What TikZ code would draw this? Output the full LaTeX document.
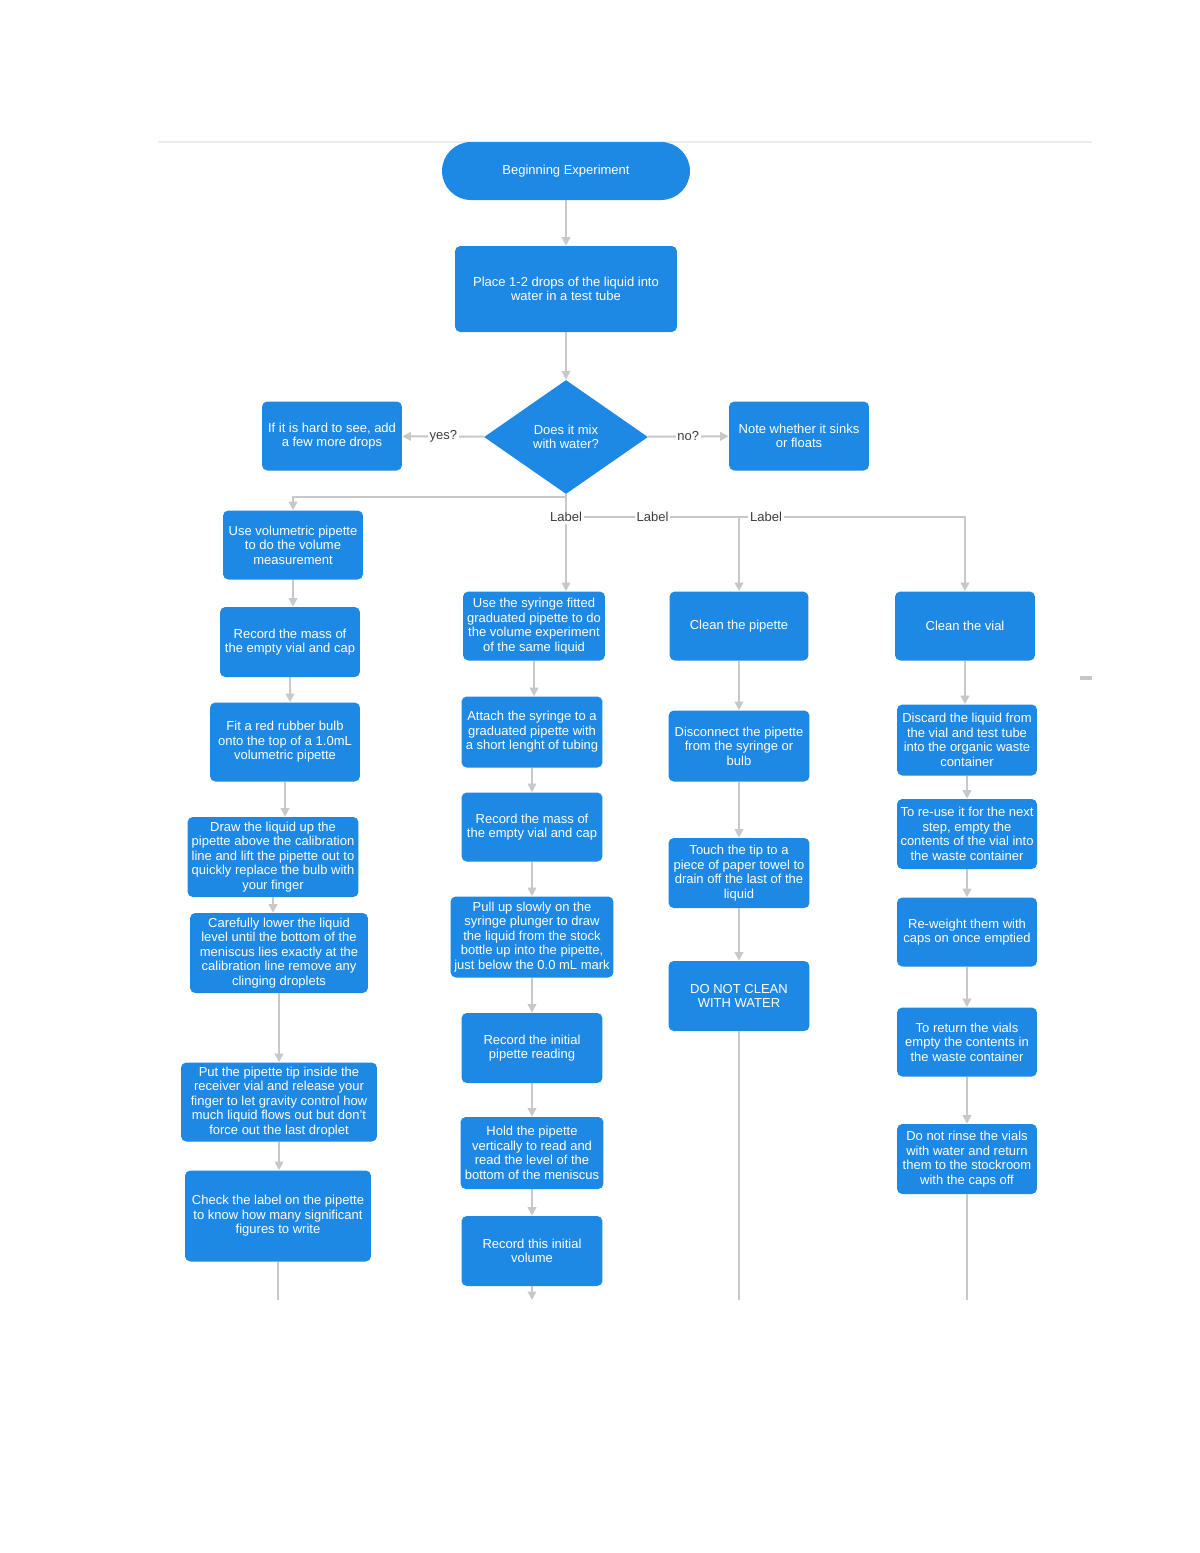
\documentclass[tikz,border=0pt]{standalone}
\usepackage{fontspec}
\setmainfont{Liberation Sans}
\usetikzlibrary{arrows.meta,shapes.geometric}
\definecolor{flowblue}{HTML}{1E88E5}
\definecolor{linegray}{HTML}{C8C8C8}
\definecolor{labelgray}{HTML}{3C3C3C}

\begin{document}
\begin{tikzpicture}[x=0.02cm,y=-0.02cm,font=\fontsize{7.4}{8.3}\selectfont,
  box/.style={rounded corners=3pt,fill=flowblue,draw=none,text=white,align=center,inner sep=2pt},
  flow/.style={-{Triangle[length=1.7mm,width=1.7mm]},linegray,line width=1.1pt},
  link/.style={linegray,line width=1.1pt},
  lbl/.style={fill=white,text=labelgray,inner sep=1pt}]
\fill[white] (0,0) rectangle (1200,1553);
\useasboundingbox (0,0) rectangle (1200,1553);
\draw[gray!15,line width=0.8pt] (158,142) -- (1092,142);
\draw[gray!45,line width=2pt] (1080,678) -- (1092,678);
% top of the chart
\node[box,rounded corners=0.58cm,minimum width=4.96cm,minimum height=1.16cm] (start) at (566,171) {Beginning Experiment};
\node[box,minimum width=4.44cm,minimum height=1.72cm] (drops) at (566,289) {Place 1-2 drops of the liquid into\\water in a test tube};
\node[diamond,fill=flowblue,text=white,align=center,inner sep=0pt,minimum width=3.28cm,minimum height=2.28cm] (mix) at (566,437) {Does it mix\\with water?};
\node[box,minimum width=2.8cm,minimum height=1.38cm] (hard) at (332,436) {If it is hard to see, add\\a few more drops};
\node[box,minimum width=2.8cm,minimum height=1.38cm] (note) at (799,436) {Note whether it sinks\\or floats};
% volumetric pipette
\node[box,minimum width=2.8cm,minimum height=1.38cm] (vol) at (293,545) {Use volumetric pipette\\to do the volume\\measurement};
\node[box,minimum width=2.8cm,minimum height=1.4cm] (massA) at (290,642) {Record the mass of\\the empty vial and cap};
\node[box,minimum width=3.0cm,minimum height=1.58cm] (bulb) at (285,742) {Fit a red rubber bulb\\onto the top of a 1.0mL\\volumetric pipette};
\node[box,minimum width=3.42cm,minimum height=1.6cm] (drawup) at (273,857) {Draw the liquid up the\\pipette above the calibration\\line and lift the pipette out to\\quickly replace the bulb with\\your finger};
\node[box,minimum width=3.56cm,minimum height=1.6cm] (lower) at (279,953) {Carefully lower the liquid\\level until the bottom of the\\meniscus lies exactly at the\\calibration line remove any\\clinging droplets};
\node[box,minimum width=3.92cm,minimum height=1.58cm] (release) at (279,1102) {Put the pipette tip inside the\\receiver vial and release your\\finger to let gravity control how\\much liquid flows out but don't\\force out the last droplet};
\node[box,minimum width=3.72cm,minimum height=1.82cm] (check) at (278,1216) {Check the label on the pipette\\to know how many significant\\figures to write};
% syringe pipette
\node[box,minimum width=2.84cm,minimum height=1.38cm] (syr) at (534,626) {Use the syringe fitted\\graduated pipette to do\\the volume experiment\\of the same liquid};
\node[box,minimum width=2.82cm,minimum height=1.42cm] (attach) at (532,732) {Attach the syringe to a\\graduated pipette with\\a short lenght of tubing};
\node[box,minimum width=2.82cm,minimum height=1.38cm] (massB) at (532,827) {Record the mass of\\the empty vial and cap};
\node[box,minimum width=3.26cm,minimum height=1.62cm] (pull) at (532,937) {Pull up slowly on the\\syringe plunger to draw\\the liquid from the stock\\bottle up into the pipette,\\just below the 0.0 mL mark};
\node[box,minimum width=2.82cm,minimum height=1.4cm] (reading) at (532,1048) {Record the initial\\pipette reading};
\node[box,minimum width=2.86cm,minimum height=1.44cm] (hold) at (532,1153) {Hold the pipette\\vertically to read and\\read the level of the\\bottom of the meniscus};
\node[box,minimum width=2.82cm,minimum height=1.4cm] (initvol) at (532,1251) {Record this initial\\volume};
% cleaning
\node[box,minimum width=2.78cm,minimum height=1.38cm] (cpip) at (739,626) {Clean the pipette};
\node[box,minimum width=2.82cm,minimum height=1.42cm] (disc) at (739,746) {Disconnect the pipette\\from the syringe or\\bulb};
\node[box,minimum width=2.82cm,minimum height=1.4cm] (touch) at (739,873) {Touch the tip to a\\piece of paper towel to\\drain off the last of the\\liquid};
\node[box,minimum width=2.82cm,minimum height=1.4cm] (noclean) at (739,996) {DO NOT CLEAN\\WITH WATER};
\node[box,minimum width=2.8cm,minimum height=1.38cm] (cvial) at (965,626) {Clean the vial};
\node[box,minimum width=2.8cm,minimum height=1.42cm] (discard) at (967,740) {Discard the liquid from\\the vial and test tube\\into the organic waste\\container};
\node[box,minimum width=2.8cm,minimum height=1.4cm] (reuse) at (967,834) {To re-use it for the next\\step, empty the\\contents of the vial into\\the waste container};
\node[box,minimum width=2.8cm,minimum height=1.38cm] (reweigh) at (967,932) {Re-weight them with\\caps on once emptied};
\node[box,minimum width=2.8cm,minimum height=1.38cm] (ret) at (967,1042) {To return the vials\\empty the contents in\\the waste container};
\node[box,minimum width=2.8cm,minimum height=1.4cm] (rinse) at (967,1159) {Do not rinse the vials\\with water and return\\them to the stockroom\\with the caps off};
\coordinate (split) at (566,517);
\coordinate (endA) at (277,1300);
\coordinate (endB) at (532,1300);
\coordinate (endC) at (739,1300);
\coordinate (endD) at (967,1300);
% connectors
\draw[flow] (start) -- (drops); \draw[flow] (drops) -- (mix);
\draw[flow] (mix) -- node[lbl]{yes?} (hard);
\draw[flow] (mix) -- node[lbl]{no?} (note);
\draw[flow] (mix.south) -- ++(0,3) -| (vol.north);
\draw[flow] (split) -- node[lbl]{Label} (cpip.north |- split) -- (cpip.north);
\draw[flow] (cpip.north |- split) -- node[lbl,pos=0.12]{Label} (cvial.north |- split) -- (cvial.north);
\draw[flow] (mix.south) -- node[lbl,pos=0.235]{Label} (mix.south |- syr.north);
\draw[flow] (vol) -- (vol |- massA.north); \draw[flow] (massA) -- (massA |- bulb.north);
\draw[flow] (bulb) -- (bulb |- drawup.north); \draw[flow] (drawup) -- (drawup |- lower.north);
\draw[flow] (lower) -- (lower |- release.north); \draw[flow] (release) -- (release |- check.north);
\draw[link] (check) -- (check |- endA);
\draw[flow] (syr) -- (syr |- attach.north); \draw[flow] (attach) -- (massB);
\draw[flow] (massB) -- (pull); \draw[flow] (pull) -- (reading);
\draw[flow] (reading) -- (hold); \draw[flow] (hold) -- (initvol);
\draw[flow] (initvol) -- (endB);
\draw[flow] (cpip) -- (disc); \draw[flow] (disc) -- (touch); \draw[flow] (touch) -- (noclean);
\draw[link] (noclean) -- (endC);
\draw[flow] (cvial) -- (cvial |- discard.north); \draw[flow] (discard) -- (reuse);
\draw[flow] (reuse) -- (reweigh); \draw[flow] (reweigh) -- (ret); \draw[flow] (ret) -- (rinse);
\draw[link] (rinse) -- (endD);
\end{tikzpicture}
\end{document}
